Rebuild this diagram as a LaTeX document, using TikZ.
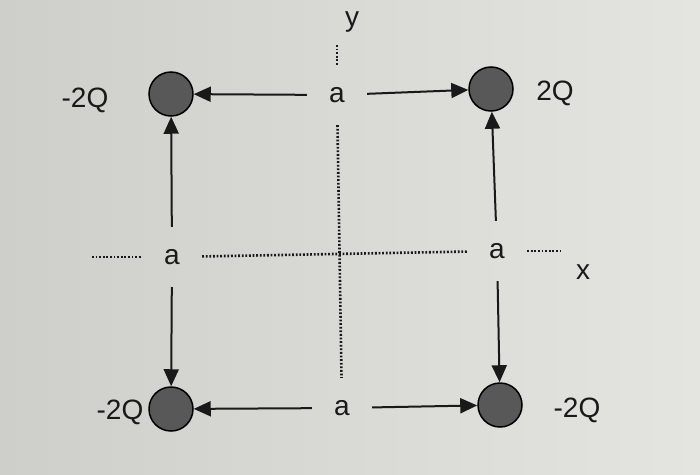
\documentclass[tikz,border=0pt]{standalone}
\usepackage{fontspec}
\setmainfont{Liberation Sans}
\usetikzlibrary{arrows.meta}
\definecolor{bgL}{RGB}{206,206,202}
\definecolor{bgR}{RGB}{228,228,225}
\definecolor{chg}{RGB}{88,88,88}
\definecolor{ink}{RGB}{25,25,25}
\begin{document}
\begin{tikzpicture}[x=1pt,y=-1pt,
  charge/.style={circle,draw=black,line width=1.5pt,fill=chg,minimum size=44pt,inner sep=0pt},
  lab/.style={font=\fontsize{28}{30}\selectfont,text=ink,inner sep=0pt},
  dim/.style={font=\fontsize{28}{30}\selectfont,text=ink,minimum size=60pt,inner sep=0pt},
  arr/.style={draw=ink,line width=2pt,-{Triangle[length=17pt,width=15pt]}},
  axis/.style={draw=ink,line width=2.6pt,dash pattern=on 1.8pt off 1.8pt}]
\shade[left color=bgL,right color=bgR] (0,0) rectangle (700,474);
\useasboundingbox (0,0) rectangle (700,474);
% labels
\node[lab] (ltl) at (85,100) {-2Q};
\node[lab] (ltr) at (555,93) {2Q};
\node[lab] (lbl) at (120,412) {-2Q};
\node[lab] (lbr) at (577,410) {-2Q};
\node[lab] (ly) at (352,22) {y};
\node[lab] (lx) at (583,272) {x};
% charges
\node[charge] (tl) at (171,94) {};
\node[charge] (tr) at (491,89) {};
\node[charge] (bl) at (171,409) {};
\node[charge] (br) at (500,405) {};
% dimension labels
\node[dim] (dt) at (337,95) {a};
\node[dim] (db) at (342,408) {a};
\node[dim] (dl) at (172,257) {a};
\node[dim] (dr) at (497,251) {a};
% axes
\coordinate (ytop) at (337,45);
\coordinate (xl) at (92,257);
\coordinate (xr) at (562,251);
\draw[axis] (ytop) -- (dt);
\draw[axis] (dt) -- (db);
\draw[axis] (xl) -- (dl);
\draw[axis] (dl) -- (dr);
\draw[axis] (dr) -- (xr);
% arrows
\draw[arr] (dt) -- (tl);
\draw[arr] (dt) -- (tr);
\draw[arr] (db) -- (bl);
\draw[arr] (db) -- (br);
\draw[arr] (dl) -- (tl);
\draw[arr] (dl) -- (bl);
\draw[arr] (dr) -- (tr);
\draw[arr] (dr) -- (br);
\end{tikzpicture}
\end{document}
